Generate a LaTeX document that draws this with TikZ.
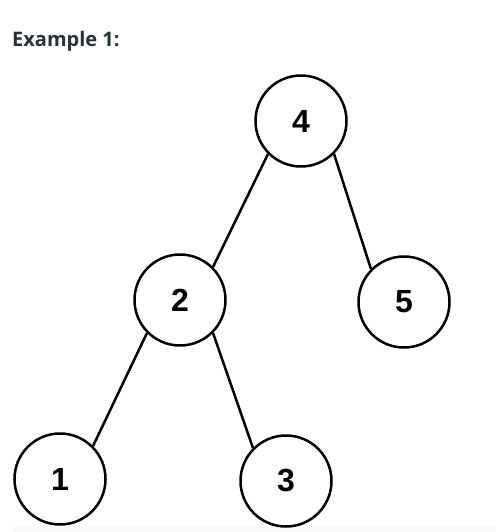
\documentclass[tikz,border=0pt]{standalone}
\usepackage{fontspec}
\setmainfont{Liberation Sans}
\newfontfamily\titlefont{Open Sans}
\usetikzlibrary{positioning}
\definecolor{titlecol}{RGB}{38,50,56}
\definecolor{stripcol}{RGB}{247,248,250}
\tikzset{
  treenode/.style={draw, circle, line width=2.5pt, minimum size=91pt, inner sep=0pt,
    font=\fontsize{32}{32}\selectfont\bfseries},
  treeedge/.style={line width=2.5pt}
}

\begin{document}
\begin{tikzpicture}[x=1pt, y=-1pt]
  \useasboundingbox (0,0) rectangle (496,532);
  \fill[stripcol] (13,527) rectangle (496,532);
  \node[anchor=base west, text=titlecol, font=\titlefont\fontsize{20}{20}\selectfont\bfseries, inner sep=0pt] (title) at (12,47) {Example 1:};
  % tree
  \node[treenode] (n4) at (301,121) {4};
  \node[treenode] (n2) at (180,300) {2};
  \node[treenode] (n5) at (404,302) {5};
  \node[treenode] (n1) at (60,479) {1};
  \node[treenode] (n3) at (286,481) {3};
  % edges leave parent at its lower corners
  \foreach \a/\b in {n4/n2, n2/n1}{ \draw[treeedge] (\a.south west) -- (\b.north east); }
  \foreach \a/\b in {n4/n5, n2/n3}{ \draw[treeedge] (\a.south east) -- (\b.north west); }
\end{tikzpicture}
\end{document}
